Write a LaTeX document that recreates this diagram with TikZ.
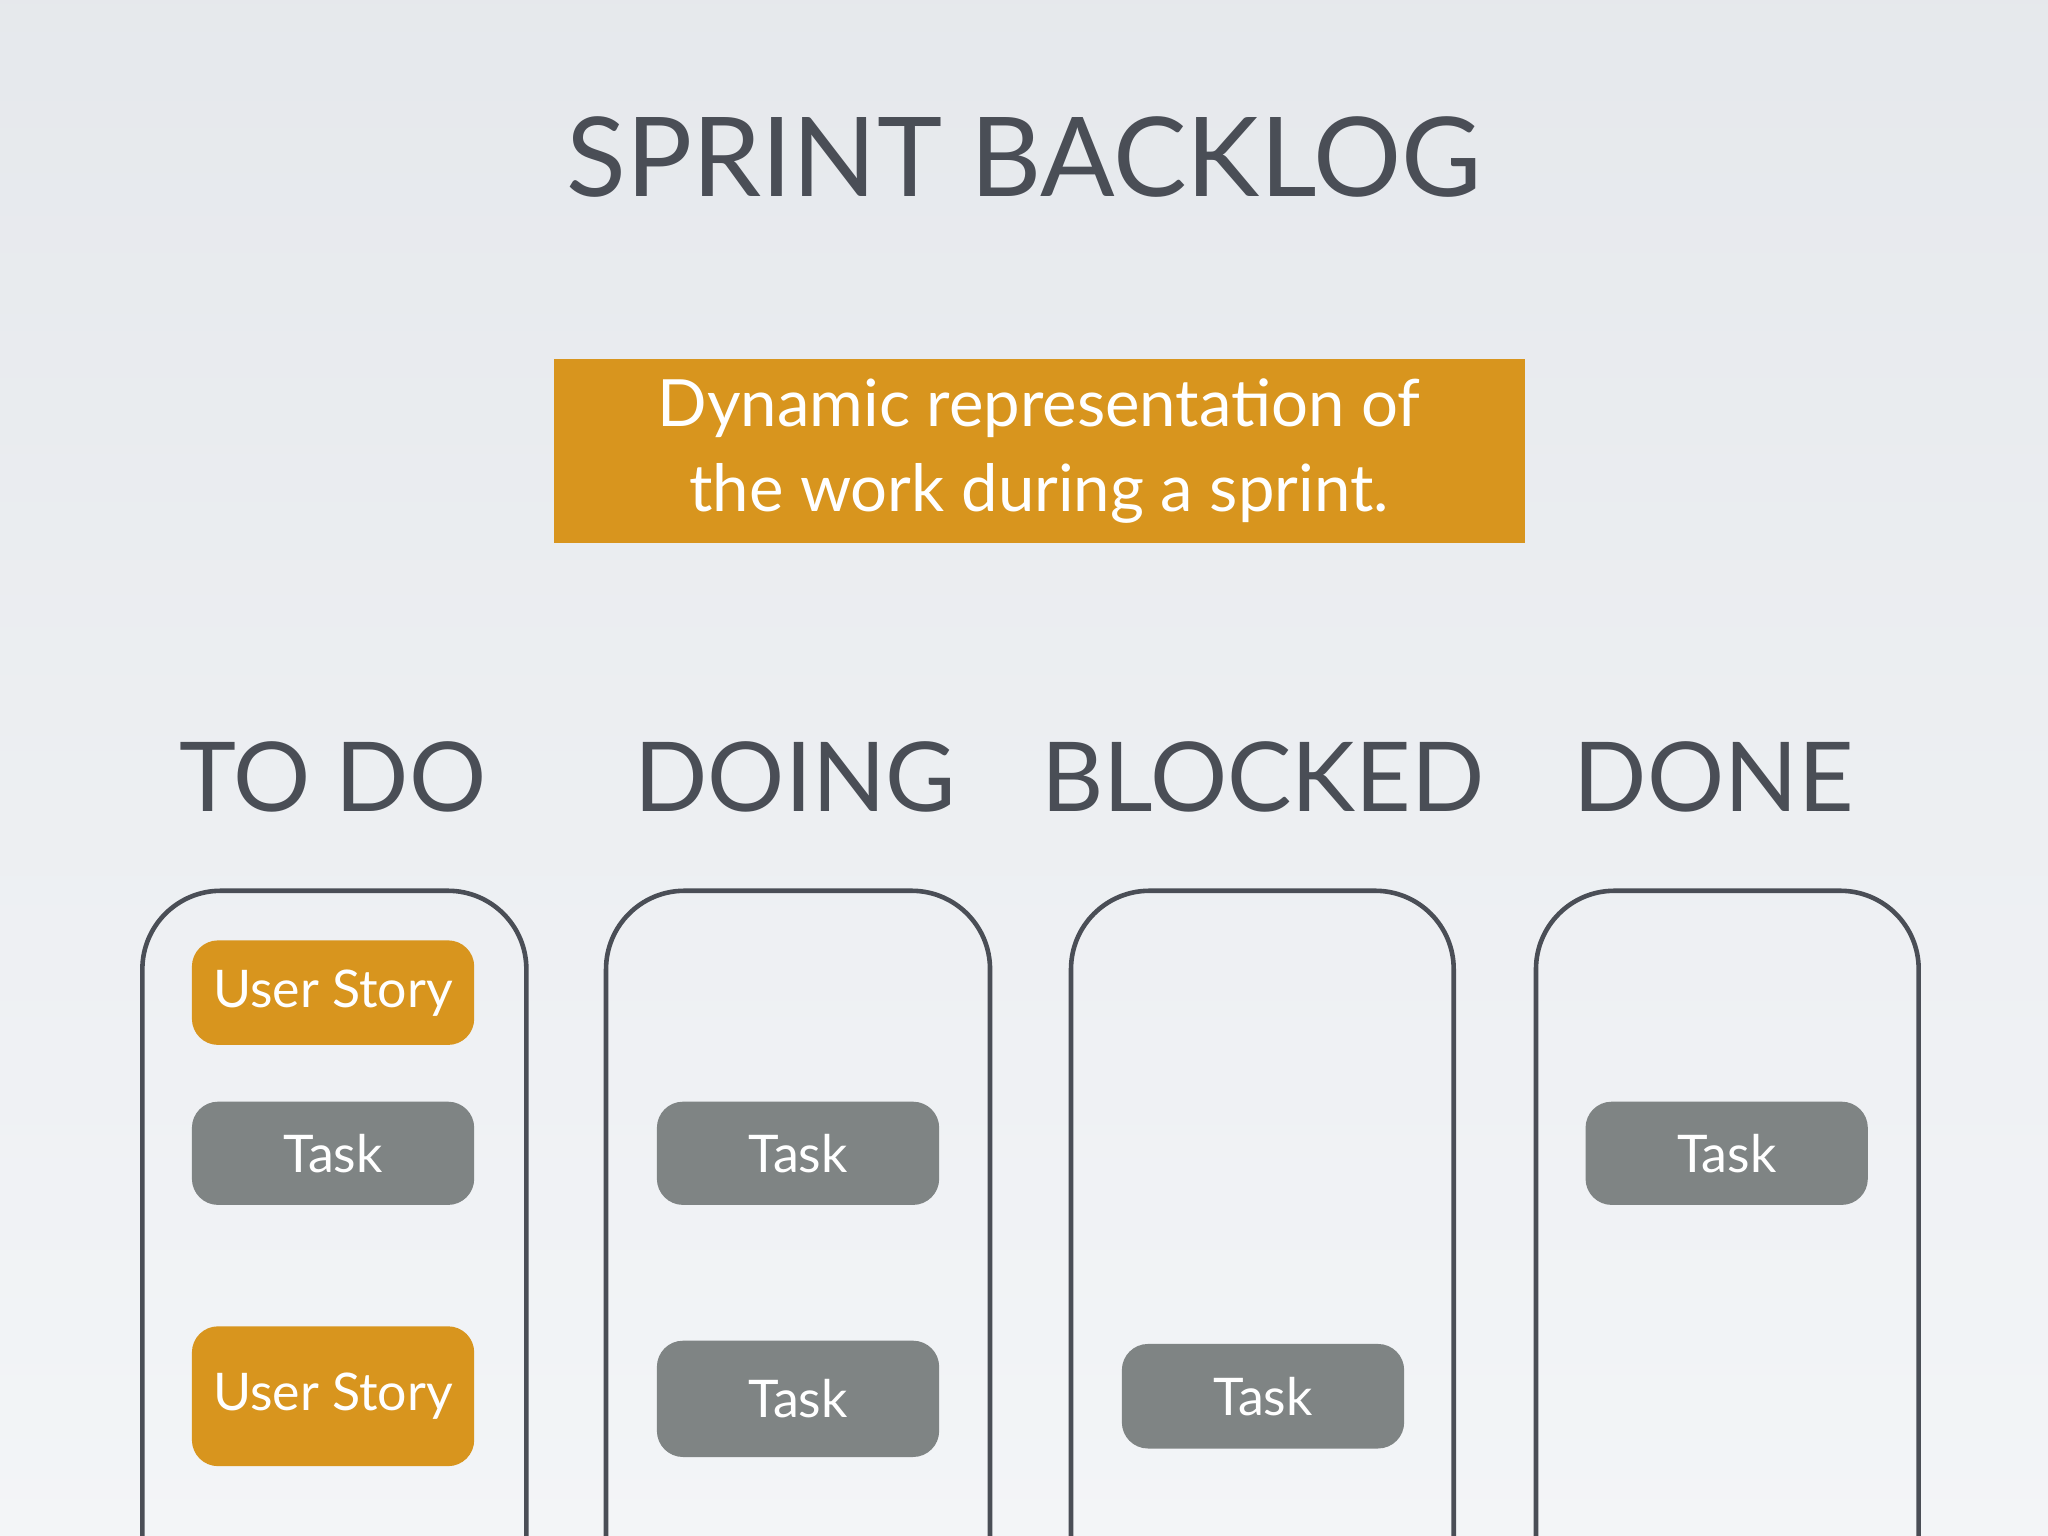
\documentclass[tikz,border=0pt]{standalone}
\usepackage{fontspec}
\setmainfont{Lato}
\definecolor{bg}{HTML}{EBEEF2}
\definecolor{ink}{HTML}{4A4E56}
\definecolor{gold}{HTML}{D8951E}
\definecolor{card}{HTML}{7F8484}
\begin{document}
\begin{tikzpicture}[x=0.01cm,y=-0.01cm,
  col/.style={draw=ink,line width=1pt,rounded corners=0.6cm},
  story/.style={fill=gold,rounded corners=0.2cm,minimum width=2.16cm,text=white,font=\fontsize{11.3}{13}\selectfont},
  task/.style={fill=card,rounded corners=0.2cm,minimum width=2.16cm,minimum height=0.79cm,text=white,font=\fontsize{11.3}{13}\selectfont},
  head/.style={text=ink,font=\fontsize{21}{24}\selectfont}]
\useasboundingbox (0,0) rectangle (1568,1176);
\shade[top color=bg!95!gray, bottom color=bg!60!white] (0,0) rectangle (1568,1176);
\clip (0,0) rectangle (1568,1176);
\node[text=ink,font=\fontsize{24}{28}\selectfont] (title) at (784,120) {SPRINT BACKLOG};
\node[fill=gold,minimum width=7.43cm,minimum height=1.41cm,text=white,align=center,
  font=\fontsize{14.2}{18.5}\selectfont] (def) at (795.5,345.5) {Dynamic representation of\\the work during a sprint.};
\node[head] (h1) at (255,595) {TO DO};
\node[head] (h2) at (609,595) {DOING};
\node[head] (h3) at (967,595) {BLOCKED};
\node[head] (h4) at (1312,595) {DONE};
\foreach \a/\b in {109/403,464/758,820/1113,1176/1469}
  \draw[col] (\a,1200) -- (\a,682) -- (\b,682) -- (\b,1200);
\node[story,minimum height=0.80cm] (us1) at (255,760) {User Story};
\node[task] (t1) at (255,883) {Task};
\node[story,minimum height=1.07cm] (us2) at (255,1069) {User Story};
\node[task] (t2) at (611,883) {Task};
\node[task,minimum height=0.89cm] (t3) at (611,1071) {Task};
\node[task,minimum height=0.80cm] (t4) at (967,1069) {Task};
\node[task] (t5) at (1322,883) {Task};
\end{tikzpicture}
\end{document}
